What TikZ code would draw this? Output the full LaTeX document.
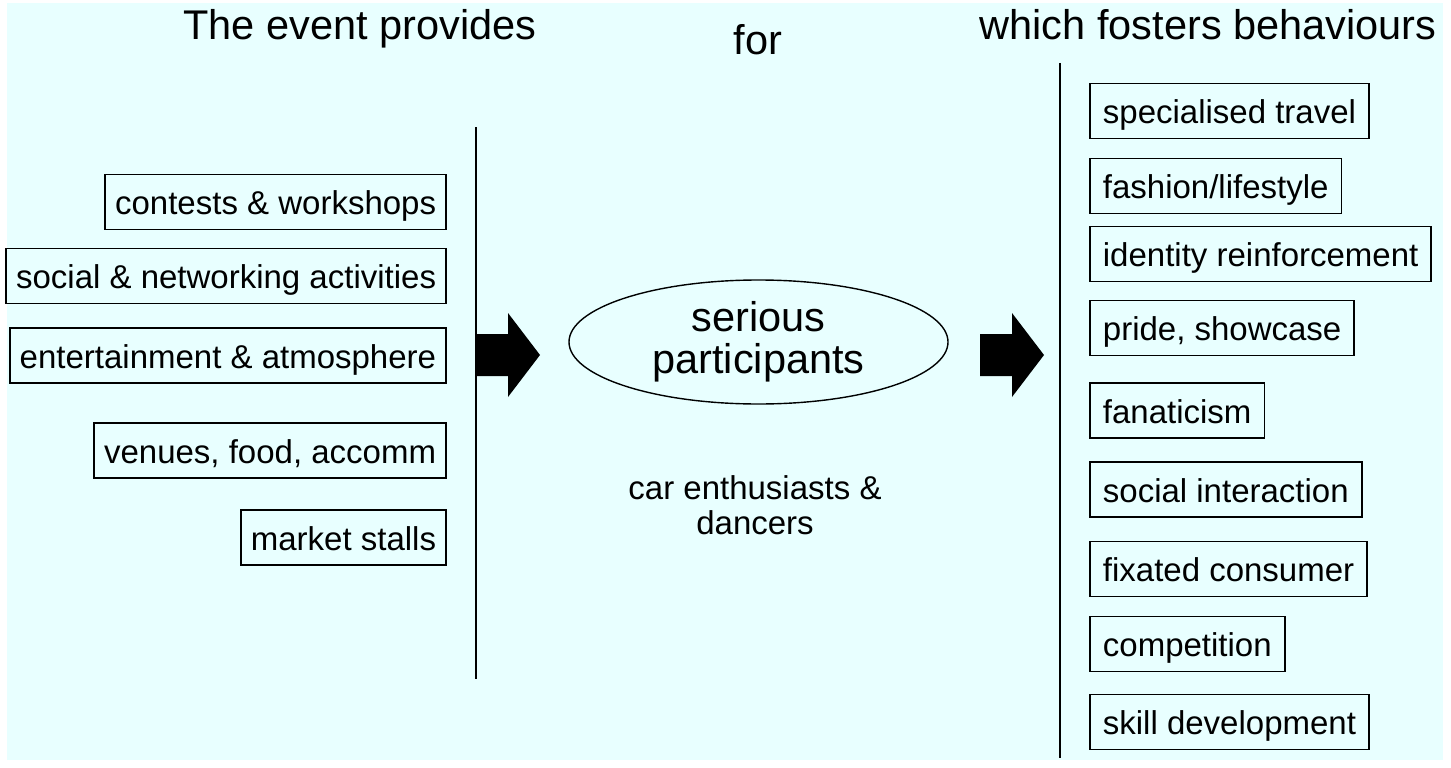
\documentclass[tikz,border=0pt]{standalone}
\usepackage{fontspec}
\setmainfont{Liberation Sans}
\usepackage{tikz}
\usetikzlibrary{shapes.geometric}
\definecolor{bgc}{RGB}{232,255,255}

\begin{document}
\begin{tikzpicture}[x=1pt, y=-1pt,
    head/.style={font=\fontsize{41.5}{43}\selectfont, inner sep=0pt, anchor=base},
    lbox/.style={draw, line width=1.8pt, font=\fontsize{33}{38}\selectfont,
      inner xsep=10pt, inner ysep=0pt, minimum height=55pt,
      text height=30pt, text depth=5pt},
    rbox/.style={lbox, inner xsep=13pt},
    note/.style={font=\fontsize{33}{35}\selectfont, align=center, inner sep=0pt},
    divider/.style={line width=2.4pt}]
  \useasboundingbox (0,0) rectangle (1451,768);
  \fill[bgc] (7,3) rectangle (1443,760);
  % headings
  \node[head] (h1) at (360,40) {The event provides};
  \node[head] (h2) at (758,55) {for};
  \node[head] (h3) at (1208,40) {which fosters behaviours};
  % dividers
  \draw[divider] (476,127) -- (476,679);
  \draw[divider] (1060,63) -- (1060,758);
  % what the event provides
  \foreach \txt/\yy [count=\i] in {{contests \& workshops}/202,
      {social \& networking activities}/276, {entertainment \& atmosphere}/355.5,
      {venues, food, accomm}/450.5, {market stalls}/537.5}
    \node[lbox, anchor=east] (p\i) at (447,\yy) {\txt};
  % participants
  \node[ellipse, draw, line width=1.4pt, minimum width=379pt, minimum height=124pt,
    align=center, font=\fontsize{41.5}{42}\selectfont, inner sep=0pt]
    (sp) at (758.5,342) {serious\\participants};
  \node[note] (who) at (755,505) {car enthusiasts \&\\dancers};
  % block arrows
  \foreach \x in {476,980}
    \fill (\x,334) -- (\x+32,334) -- (\x+32,313) -- (\x+64,355) -- (\x+32,397)
      -- (\x+32,376) -- (\x,376) -- cycle;
  % behaviours
  \foreach \txt/\yy [count=\i] in {{specialised travel}/111, {fashion/lifestyle}/186,
      {identity reinforcement}/254, {pride, showcase}/328, {fanaticism}/410.5,
      {social interaction}/489.5, {fixated consumer}/569, {competition}/644,
      {skill development}/722}
    \node[rbox, anchor=west] (b\i) at (1089,\yy) {\txt};
\end{tikzpicture}
\end{document}
